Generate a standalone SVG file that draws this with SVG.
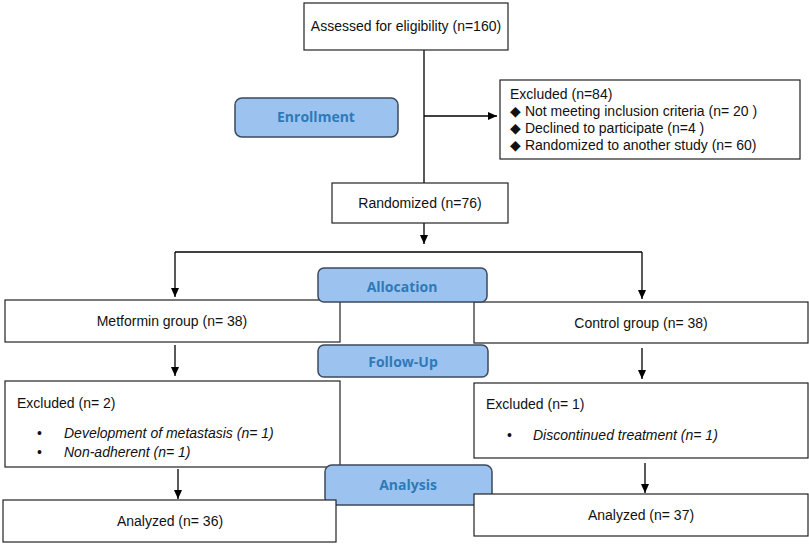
<svg xmlns="http://www.w3.org/2000/svg" width="809" height="545" viewBox="0 0 809 545">
<defs>
<marker id="ah" markerWidth="10" markerHeight="10" refX="9" refY="5" orient="auto" markerUnits="userSpaceOnUse"><path d="M0,1 L9,5 L0,9 z" fill="#000"/></marker>
</defs>
<style>
.box{fill:#fff;stroke:#222;stroke-width:1.2}
.pill{fill:#9cc3f0;stroke:#3a4a5e;stroke-width:1.5}
.t{font-family:"Liberation Sans",Arial,sans-serif;font-size:14px;fill:#111}
.i{font-style:italic}
.p{font-family:"Open Sans","DejaVu Sans",sans-serif;font-size:14px;font-weight:bold;fill:#2e7ab8;text-anchor:middle}
.c{stroke:#000;stroke-width:1.3;fill:none}
</style>
<rect width="809" height="545" fill="#fff"/>
<g id="connectors">
<path class="c" d="M424,50 V183"/>
<path class="c" d="M424,116 H497" marker-end="url(#ah)"/>
<path class="c" d="M424,223 V244" marker-end="url(#ah)"/>
<path class="c" d="M175,252 H642"/>
<path class="c" d="M175,252 V297" marker-end="url(#ah)"/>
<path class="c" d="M642,252 V299" marker-end="url(#ah)"/>
<path class="c" d="M175,345 V376" marker-end="url(#ah)"/>
<path class="c" d="M642,348 V379" marker-end="url(#ah)"/>
<path class="c" d="M178,469 V499" marker-end="url(#ah)"/>
<path class="c" d="M645,463 V493" marker-end="url(#ah)"/>
</g>
<g id="assessed"><rect class="box" x="304" y="3" width="204" height="47"/><text class="t" x="406" y="31" text-anchor="middle">Assessed for eligibility (n=160)</text></g>
<g id="excluded1"><rect class="box" x="500" y="80" width="300" height="79"/>
<text class="t" x="510" y="99" font-size="13">Excluded (n=84)</text>
<text class="t" x="510" y="116" font-size="13">◆  Not meeting inclusion criteria (n= 20 )</text>
<text class="t" x="510" y="133" font-size="13">◆  Declined to participate (n=4 )</text>
<text class="t" x="510" y="150" font-size="13">◆  Randomized to another study  (n= 60)</text></g>
<g id="enrollment"><rect class="pill" x="235" y="98" width="163" height="39" rx="7"/><text class="p" x="316" y="122">Enrollment</text></g>
<g id="randomized"><rect class="box" x="332" y="183" width="176" height="40"/><text class="t" x="420" y="208" text-anchor="middle">Randomized (n=76)</text></g>
<g id="metformin"><rect class="box" x="5" y="300" width="335" height="42"/><text class="t" x="172" y="326" text-anchor="middle">Metformin group (n= 38)</text></g>
<g id="control"><rect class="box" x="474" y="302" width="334" height="41"/><text class="t" x="641" y="328" text-anchor="middle">Control group (n= 38)</text></g>
<g id="allocation"><rect class="pill" x="318" y="268" width="169" height="34" rx="6"/><text class="p" x="402" y="292">Allocation</text></g>
<g id="followup"><rect class="pill" x="318" y="345" width="170" height="32" rx="6"/><text class="p" x="403" y="367">Follow-Up</text></g>
<g id="excl-left"><rect class="box" x="5" y="381" width="335" height="86"/>
<text class="t" x="17" y="408">Excluded (n= 2)</text>
<text class="t" x="37" y="438">•</text><text class="t i" x="64" y="438">Development of metastasis (n= 1)</text>
<text class="t" x="37" y="457">•</text><text class="t i" x="64" y="457">Non-adherent (n= 1)</text></g>
<g id="excl-right"><rect class="box" x="474" y="383" width="334" height="75"/>
<text class="t" x="486" y="409">Excluded (n= 1)</text>
<text class="t" x="507" y="440">•</text><text class="t i" x="533" y="440">Discontinued treatment (n= 1)</text></g>
<g id="analysis"><rect class="pill" x="325" y="465" width="167" height="40" rx="7"/><text class="p" x="408" y="490">Analysis</text></g>
<g id="analyzed-left"><rect class="box" x="3" y="500" width="333" height="42"/><text class="t" x="170" y="526" text-anchor="middle">Analyzed (n= 36)</text></g>
<g id="analyzed-right"><rect class="box" x="474" y="494" width="334" height="42"/><text class="t" x="641" y="520" text-anchor="middle">Analyzed (n= 37)</text></g>
</svg>
